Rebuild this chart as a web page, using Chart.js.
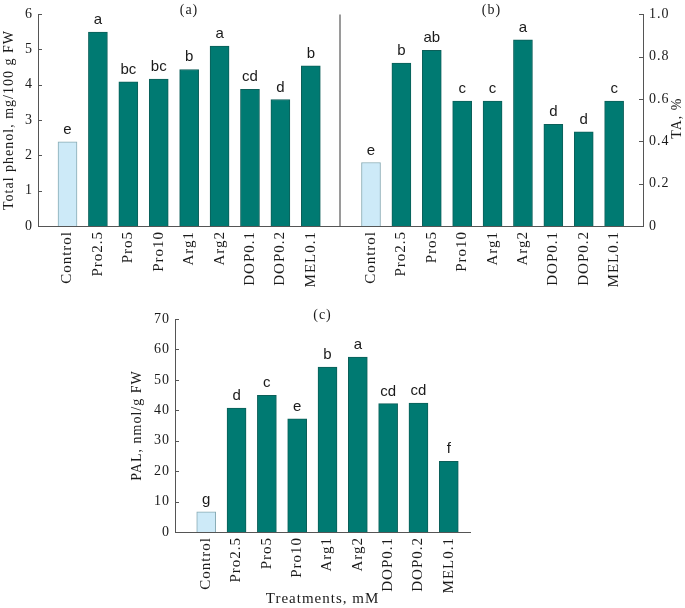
<!DOCTYPE html>
<html>
<head>
<meta charset="utf-8">
<script src="https://cdn.jsdelivr.net/npm/chart.js@4.4.1/dist/chart.umd.min.js"></script>
<style>
  body { margin: 0; background: #fff; }
  #wrap { position: relative; width: 685px; height: 608px; }
  canvas { position: absolute; }
</style>
</head>
<body>
<div id="wrap">
  <canvas id="chartA" width="345" height="300" style="left:0;top:0"></canvas>
  <canvas id="chartB" width="355" height="300" style="left:330px;top:0"></canvas>
  <canvas id="chartC" width="420" height="308" style="left:120px;top:300px"></canvas>
</div>
<script>
const categories = ["Control", "Pro2.5", "Pro5", "Pro10", "Arg1", "Arg2", "DOP0.1", "DOP0.2", "MEL0.1"];

// (a) total phenol, mg/100 g FW
const phenol = [2.38, 5.49, 4.08, 4.16, 4.43, 5.09, 3.87, 3.58, 4.53];
const phenolLetters = ["e", "a", "bc", "bc", "b", "a", "cd", "d", "b"];

// (b) TA, %
const ta = [0.30, 0.77, 0.83, 0.59, 0.59, 0.88, 0.48, 0.445, 0.59];
const taLetters = ["e", "b", "ab", "c", "c", "a", "d", "d", "c"];

// (c) PAL, nmol/g FW
const pal = [6.6, 40.7, 44.9, 37.2, 54.2, 57.5, 42.2, 42.4, 23.2];
const palLetters = ["g", "d", "c", "e", "b", "a", "cd", "cd", "f"];

const teal = "#007a72";
const tealEdge = "#0b5f59";
const control = "#cdeaf8";
const controlEdge = "#86aab3";
const axisColor = "#555";
const textColor = "#1a1a1a";
const serif = '"Liberation Serif", "Times New Roman", serif';

const panelPlugin = {
  id: "panel",
  beforeDraw(chart) {
    chart.ctx.letterSpacing = "1px";
  },
  afterDraw(chart, args, opts) {
    const ctx = chart.ctx;
    const { left, right, top, bottom } = chart.chartArea;
    const xs = chart.scales.x;
    const ys = chart.scales.y;
    ctx.save();

    // ticks point into the plot
    ctx.strokeStyle = axisColor;
    ctx.lineWidth = 1;
    const ax = opts.right ? right : left;
    const dir = opts.right ? -1 : 1;
    ys.ticks.forEach((t) => {
      const py = Math.round(ys.getPixelForValue(t.value)) + 0.5;
      ctx.beginPath();
      ctx.moveTo(ax, py);
      ctx.lineTo(ax + dir * 4, py);
      ctx.stroke();
    });

    if (opts.divider) {
      ctx.strokeStyle = "#9a9a9a";
      ctx.lineWidth = 2;
      ctx.beginPath();
      ctx.moveTo(left, top);
      ctx.lineTo(left, bottom);
      ctx.stroke();
    }

    // significance letters
    ctx.letterSpacing = "0px";
    ctx.font = '15px "Liberation Sans", Arial, sans-serif';
    ctx.fillStyle = textColor;
    ctx.textAlign = "center";
    ctx.textBaseline = "alphabetic";
    const data = chart.data.datasets[0].data;
    opts.letters.forEach((l, i) => {
      ctx.fillText(l, xs.getPixelForValue(i), ys.getPixelForValue(data[i].y) - 8);
    });

    // panel tag
    ctx.letterSpacing = "1px";
    ctx.font = "14px " + serif;
    ctx.textBaseline = "middle";
    ctx.fillText(opts.tag, (left + right) / 2, opts.tagY);

    if (opts.sideTitle) {
      ctx.translate(opts.sideTitle.x, (top + bottom) / 2 - 2);
      ctx.rotate(-Math.PI / 2);
      ctx.fillText(opts.sideTitle.text, 0, 0);
    }
    ctx.restore();
  },
};

function makePanel(id, values, letters, cfg) {
  const colors = values.map((v, i) => (i === 0 ? control : teal));
  const edges = values.map((v, i) => (i === 0 ? controlEdge : tealEdge));
  return new Chart(document.getElementById(id), {
    type: "bar",
    data: {
      datasets: [
        {
          data: values.map((v, i) => ({ x: i, y: v })),
          backgroundColor: colors,
          borderColor: edges,
          borderWidth: 1,
          barThickness: 19,
        },
      ],
    },
    options: {
      responsive: false,
      animation: false,
      layout: { padding: cfg.padding },
      plugins: {
        legend: { display: false },
        tooltip: { enabled: false },
        panel: {
          letters: letters,
          tag: cfg.tag,
          tagY: cfg.tagY,
          right: cfg.right,
          divider: cfg.divider,
          sideTitle: cfg.sideTitle,
        },
      },
      scales: {
        x: {
          type: "linear",
          offset: false,
          min: cfg.xMin,
          max: cfg.xMax,
          afterBuildTicks: (s) => {
            s.ticks = categories.map((c, i) => ({ value: i }));
          },
          afterFit: (s) => {
            s.height = cfg.xHeight;
          },
          grid: { display: false, drawTicks: false },
          border: { color: axisColor, width: 1 },
          ticks: {
            autoSkip: false,
            minRotation: 90,
            maxRotation: 90,
            padding: 5,
            color: textColor,
            font: { family: serif, size: 15 },
            callback: (v) => categories[v],
          },
          title: cfg.xTitle
            ? {
                display: true,
                text: cfg.xTitle,
                color: textColor,
                font: { family: serif, size: 15 },
                padding: { top: 3, bottom: 0 },
              }
            : { display: false },
        },
        y: {
          position: cfg.right ? "right" : "left",
          min: 0,
          max: cfg.yMax,
          afterBuildTicks: (s) => {
            const t = [];
            for (let v = 0; v <= cfg.yMax + 1e-9; v += cfg.yStep) t.push({ value: v });
            s.ticks = t;
          },
          afterFit: (s) => {
            s.width = cfg.yWidth;
          },
          grid: { display: false, drawTicks: false },
          border: { color: axisColor, width: 1 },
          ticks: {
            padding: cfg.right ? 6 : 5,
            color: textColor,
            font: { family: serif, size: 14 },
            callback: cfg.tickFmt || ((v) => String(Math.round(v))),
          },
          title: cfg.yTitle
            ? {
                display: true,
                text: cfg.yTitle,
                color: textColor,
                font: { family: serif, size: 14 },
                padding: { top: cfg.yTitlePad, bottom: 0 },
              }
            : { display: false },
        },
      },
    },
    plugins: [panelPlugin],
  });
}

makePanel("chartA", phenol, phenolLetters, {
  padding: { left: 0, right: 5, top: 14, bottom: 0 },
  xMin: -0.97,
  xMax: 8.96,
  xHeight: 74,
  yMax: 6,
  yStep: 1,
  yWidth: 38,
  yTitle: "Total phenol, mg/100 g FW",
  yTitlePad: 1,
  tag: "(a)",
  tagY: 10,
});

makePanel("chartB", ta, taLetters, {
  padding: { left: 10, right: 0, top: 14, bottom: 0 },
  xMin: -1.02,
  xMax: 8.95,
  xHeight: 74,
  yMax: 1,
  yStep: 0.2,
  yWidth: 42,
  right: true,
  divider: true,
  tickFmt: (v) => (v === 0 ? "0" : v.toFixed(1)),
  tag: "(b)",
  tagY: 10,
  sideTitle: { text: "TA, %", x: 347 },
});

makePanel("chartC", pal, palLetters, {
  padding: { left: 0, right: 70, top: 19, bottom: 0 },
  xMin: -1.03,
  xMax: 8.7,
  xHeight: 76,
  xTitle: "Treatments, mM",
  yMax: 70,
  yStep: 10,
  yWidth: 55,
  yTitle: "PAL, nmol/g FW",
  yTitlePad: 9,
  tag: "(c)",
  tagY: 15,
});
</script>
</body>
</html>
